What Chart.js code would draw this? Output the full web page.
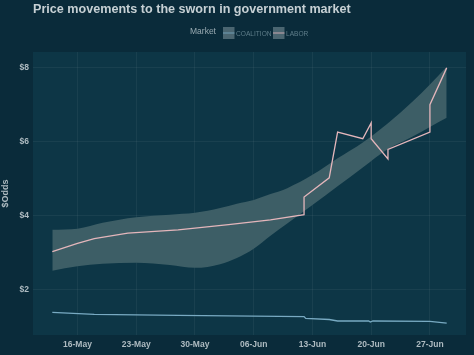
<!DOCTYPE html>
<html><head><meta charset="utf-8">
<script src="https://cdn.jsdelivr.net/npm/chart.js@4.4.1/dist/chart.umd.min.js"></script>
<style>html,body{margin:0;padding:0;background:#0a2b3a;overflow:hidden}#wrap{width:474px;height:355px;position:relative}canvas{display:block}</style>
</head><body><div id="wrap"><canvas id="c" width="474" height="355" style="width:474px;height:355px"></canvas></div>
<script>
// Day offsets relative to 16-May
const tickLabels = ['16-May','23-May','30-May','06-Jun','13-Jun','20-Jun','27-Jun'];
const tickDays = [0, 7, 14, 21, 28, 35, 42];
const yTicks = [2, 4, 6, 8];
const seriesNames = ['COALITION', 'LABOR'];

const laborDays = [-3, 0, 2, 6, 12, 18, 23, 27, 27, 30, 31, 34, 35, 35, 37, 37, 42, 42, 44];
const laborOdds = [3.02, 3.24, 3.37, 3.52, 3.61, 3.75, 3.88, 4.02, 4.50, 5.02, 6.26, 6.08, 6.51, 6.08, 5.53, 5.79, 6.26, 7.00, 8.00];

const coalitionDays = [-3, 2, 12, 21, 27, 27.2, 30, 31, 34.7, 34.9, 35.2, 42, 44];
const coalitionOdds = [1.375, 1.32, 1.29, 1.27, 1.26, 1.21, 1.18, 1.14, 1.14, 1.11, 1.14, 1.13, 1.08];

const bandDays  = [-3, 0, 3, 7, 11, 14, 17, 19, 21, 23, 25, 28, 31, 34, 37, 40, 42, 44];
const bandUpper = [3.61, 3.64, 3.80, 3.95, 4.02, 4.07, 4.20, 4.32, 4.42, 4.58, 4.74, 5.10, 5.55, 5.98, 6.50, 7.10, 7.55, 8.03];
const bandLower = [2.50, 2.62, 2.69, 2.72, 2.66, 2.58, 2.68, 2.85, 3.10, 3.45, 3.78, 4.28, 4.79, 5.30, 5.80, 6.15, 6.40, 6.65];

const COL = {outer:'#0a2b3a', panel:'#0d3646', grid:'rgba(255,255,255,0.05)', band:'#3d5e66',
  labor:'#e4b6bb', coalition:'#78aac2', text:'#aebbc1', title:'#c6d0d4', legendText:'#5f7e8a'};

const pts = (xs, ys) => xs.map((x, i) => ({x, y: ys[i]}));

const bgPlugin = {
  id: 'bg',
  beforeDraw(chart) {
    const {ctx, chartArea: a} = chart;
    ctx.save();
    ctx.fillStyle = COL.outer; ctx.fillRect(0, 0, chart.width, chart.height);
    ctx.fillStyle = COL.panel; ctx.fillRect(a.left, a.top, a.right - a.left, a.bottom - a.top);
    ctx.restore();
  },
  afterDraw(chart) {
    const {ctx} = chart;
    ctx.save();
    // title
    const t = 'Price movements to the sworn in government market';
    let fs = 13;
    ctx.font = `bold ${fs}px "Liberation Sans", Arial, sans-serif`;
    fs = fs * 318 / ctx.measureText(t).width;
    ctx.font = `bold ${fs}px "Liberation Sans", Arial, sans-serif`;
    ctx.fillStyle = COL.title; ctx.textBaseline = 'middle'; ctx.textAlign = 'left';
    ctx.fillText(t, 33, 10);
    // legend
    ctx.font = '8.5px "Liberation Sans", Arial, sans-serif';
    ctx.fillStyle = '#9aabb2';
    ctx.fillText('Market', 190, 32);
    const items = [
      {name: seriesNames[0], color: COL.coalition, x: 223},
      {name: seriesNames[1], color: COL.labor, x: 273}
    ];
    items.forEach(it => {
      ctx.fillStyle = '#4b6671';
      ctx.fillRect(it.x, 27, 11.5, 12);
      ctx.strokeStyle = it.color; ctx.globalAlpha = 0.6; ctx.lineWidth = 1.4;
      ctx.beginPath(); ctx.moveTo(it.x, 33); ctx.lineTo(it.x + 11.5, 33); ctx.stroke();
      ctx.globalAlpha = 1;
      ctx.font = '6.6px "Liberation Sans", Arial, sans-serif';
      ctx.fillStyle = COL.legendText;
      ctx.fillText(it.name, it.x + 13, 34);
    });
    ctx.restore();
  }
};

new Chart(document.getElementById('c'), {
  type: 'line',
  data: {
    datasets: [
      {label: seriesNames[0], data: pts(coalitionDays, coalitionOdds), borderColor: COL.coalition, borderWidth: 1.3, pointRadius: 0, tension: 0, fill: false},
      {label: seriesNames[1], data: pts(laborDays, laborOdds), borderColor: COL.labor, borderWidth: 1.3, pointRadius: 0, tension: 0, fill: false},
      {label: 'upper', data: pts(bandDays, bandUpper), borderWidth: 0, borderColor: 'rgba(0,0,0,0)', pointRadius: 0, cubicInterpolationMode: 'monotone', backgroundColor: COL.band, fill: '+1'},
      {label: 'lower', data: pts(bandDays, bandLower), borderWidth: 0, borderColor: 'rgba(0,0,0,0)', pointRadius: 0, cubicInterpolationMode: 'monotone', fill: false}
    ]
  },
  options: {
    responsive: false, maintainAspectRatio: false, animation: false, devicePixelRatio: 1,
    layout: {padding: {top: 52, right: 8, bottom: 0, left: 0}},
    plugins: {legend: {display: false}, tooltip: {enabled: false}, title: {display: false}},
    scales: {
      x: {
        type: 'linear', min: -5.3, max: 46.3,
        afterBuildTicks: s => { s.ticks = tickDays.map(v => ({value: v})); },
        afterFit: s => { s.height = 20; },
        grid: {color: COL.grid, drawTicks: false},
        border: {display: false},
        ticks: {padding: 5, color: COL.text, font: {family: '"Liberation Sans", Arial, sans-serif', size: 8.5, weight: 'bold'},
          callback: v => tickLabels[tickDays.indexOf(v)], maxRotation: 0, autoSkip: false}
      },
      y: {
        type: 'linear', min: 0.76, max: 8.43,
        afterBuildTicks: s => { s.ticks = yTicks.map(v => ({value: v})); },
        afterFit: s => { s.width = 33; },
        grid: {color: COL.grid, drawTicks: false},
        border: {display: false},
        title: {display: true, text: '$Odds', color: COL.text, padding: {top: 0, bottom: 0}, font: {family: '"Liberation Sans", Arial, sans-serif', size: 9, weight: 'bold'}},
        ticks: {padding: 4, color: COL.text, font: {family: '"Liberation Sans", Arial, sans-serif', size: 8.5, weight: 'bold'},
          callback: v => '$' + v}
      }
    }
  },
  plugins: [bgPlugin]
});
</script>
</body></html>
